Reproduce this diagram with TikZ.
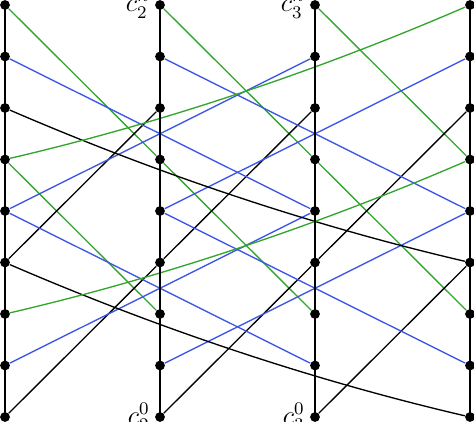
\documentclass[tikz,border=0pt]{standalone}
\usetikzlibrary{calc}
\pgfdeclarelayer{bg}
\pgfsetlayers{bg,main}
\definecolor{lgreen}{RGB}{50,165,45}
\definecolor{lblue}{RGB}{60,85,230}
\begin{document}
\begin{tikzpicture}[x=69.75pt,y=23.175pt,
  dot/.style={circle,fill=black,inner sep=0pt,minimum size=4.4pt},
  rail/.style={draw=black,line width=0.9pt},
  gedge/.style={draw=lgreen,line width=0.6pt},
  bedge/.style={draw=lblue,line width=0.6pt},
  kedge/.style={draw=black,line width=0.6pt},
  lab/.style={inner sep=2pt,anchor=east,font=\large}]
\useasboundingbox (-0.03226,-0.0777) rectangle (3.0258,8.0971);
\clip (-0.03226,-0.0777) rectangle (3.0258,8.0971);
\foreach \i in {0,...,3}{\foreach \k in {0,...,8}{\node[dot] (n\i\k) at (\i,\k) {};}}
\begin{pgfonlayer}{bg}
\foreach \i/\j in {0/1,1/2,2/3}{
  \draw[gedge] (n\i8) -- (n\j5);
  \draw[gedge] (n\i5) -- (n\j2);
  \draw[kedge] (n\i0) -- (n\j3);
  \draw[kedge] (n\i3) -- (n\j6);
}
\foreach \i/\j in {0/2,1/3}{
  \draw[bedge] (n\i7) -- (n\j4);
  \draw[bedge] (n\i4) -- (n\j7);
  \draw[bedge] (n\i4) -- (n\j1);
  \draw[bedge] (n\i1) -- (n\j4);
}
\draw[kedge] (n06) .. controls (1,4.7) and (2,3.7) .. (n33);
\draw[kedge] (n03) .. controls (1,1.7) and (2,0.7) .. (n30);
\draw[gedge] (n05) .. controls (1,5.7) and (2,6.7) .. (n38);
\draw[gedge] (n02) .. controls (1,2.7) and (2,3.7) .. (n35);
\foreach \i in {0,...,3}{\draw[rail] (n\i0.center) -- (n\i8.center);}
\end{pgfonlayer}
\node[lab,yshift=-0.5pt] (l2t) at (n18.west) {$c_2^{n}$};
\node[lab,yshift=-0.5pt] (l3t) at (n28.west) {$c_3^{n}$};
\node[lab] (l2b) at (n10.west) {$c_2^{0}$};
\node[lab] (l3b) at (n20.west) {$c_3^{0}$};
\end{tikzpicture}
\end{document}
